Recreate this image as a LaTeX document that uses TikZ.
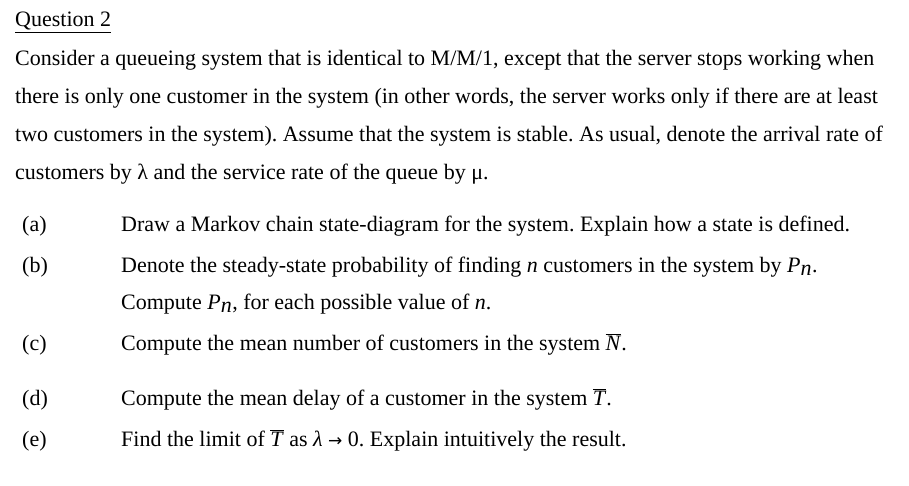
\documentclass[tikz,border=0pt]{standalone}
\usepackage{fontspec}
\setmainfont{Liberation Serif}
\begin{document}
\frenchspacing
\begin{tikzpicture}[x=1pt,y=1pt,
  txt/.style={anchor=base west,inner sep=0pt,font=\fontsize{22}{26}\selectfont}]
\useasboundingbox (0,0) rectangle (909,485);
\node[txt] (q) at (15,485-27) {\underline{Question 2}};
\node[txt] (l1) at (15,485-66) {Consider a queueing system that is identical to M/M/1, except that the server stops working when};
\node[txt] (l2) at (15,485-104) {there is only one customer in the system (in other words, the server works only if there are at least};
\node[txt] (l3) at (15,485-142) {two customers in the system). Assume that the system is stable. As usual, denote the arrival rate of};
\node[txt] (l4) at (15,485-180) {customers by λ and the service rate of the queue by μ.};
\node[txt] (a) at (22,485-231) {(a)};
\node[txt] (at) at (121,485-231) {Draw a Markov chain state-diagram for the system. Explain how a state is defined.};
\node[txt] (b) at (22,485-272) {(b)};
\node[txt] (bt) at (121,485-272) {Denote the steady-state probability of finding \textit{n} customers in the system by \textit{P}$_{\textit{n}}$.};
\node[txt] (bt2) at (121,485-309) {Compute \textit{P}$_{\textit{n}}$, for each possible value of \textit{n}.};
\node[txt] (c) at (22,485-350) {(c)};
\node[txt] (ct) at (121,485-350) {Compute the mean number of customers in the system $\overline{\mbox{\textit{N}}}$.};
\node[txt] (d) at (22,485-405) {(d)};
\node[txt] (dt) at (121,485-405) {Compute the mean delay of a customer in the system $\overline{\mbox{\textit{T}}}$.};
\node[txt] (e) at (22,485-446) {(e)};
\node[txt] (et) at (121,485-446) {Find the limit of $\overline{\mbox{\textit{T}}}$ as \textit{λ} {\fontspec{DejaVu Sans}\fontsize{17}{20}\selectfont →} 0. Explain intuitively the result.};
\end{tikzpicture}
\end{document}
